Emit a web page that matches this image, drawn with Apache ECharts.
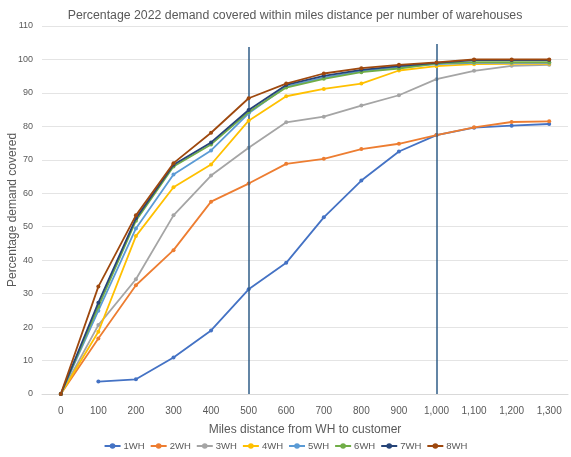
<!DOCTYPE html>
<html>
<head>
<meta charset="utf-8">
<script src="https://cdn.jsdelivr.net/npm/echarts@6/dist/echarts.min.js"></script>
<style>
  html, body { margin: 0; padding: 0; background: #fff; }
  #chart { width: 571px; height: 457px; }
</style>
</head>
<body>
<div id="chart"></div>
<script>
var miles = ['0', '100', '200', '300', '400', '500', '600', '700', '800', '900', '1,000', '1,100', '1,200', '1,300'];

var wh1 = ['-', 3.7, 4.4, 10.9, 19.0, 31.3, 39.2, 52.8, 63.8, 72.5, 77.4, 79.6, 80.2, 80.7];
var wh2 = [0, 16.6, 32.5, 43.0, 57.5, 62.9, 68.8, 70.3, 73.2, 74.8, 77.4, 79.7, 81.3, 81.5];
var wh3 = [0, 20.6, 34.3, 53.4, 65.3, 73.6, 81.2, 82.9, 86.2, 89.3, 94.1, 96.6, 98.1, 98.4];
var wh4 = [0, 18.6, 47.2, 61.8, 68.6, 81.7, 89.0, 91.2, 92.8, 96.7, 98.0, 98.6, 98.7, 98.7];
var wh5 = [0, 24.9, 49.5, 65.6, 72.8, 83.9, 91.9, 94.6, 96.5, 97.6, 98.6, 99.0, 99.0, 99.0];
var wh6 = [0, 26.1, 51.8, 68.0, 74.6, 84.3, 91.6, 94.2, 96.2, 97.3, 98.8, 99.2, 99.2, 99.2];
var wh7 = [0, 27.3, 52.5, 68.5, 75.2, 84.9, 92.4, 95.1, 96.9, 98.0, 99.0, 99.8, 99.8, 99.8];
var wh8 = [0, 32.1, 53.4, 69.0, 78.1, 88.4, 92.8, 95.8, 97.4, 98.4, 99.1, 100, 100, 100];

var seriesNames = ['1WH', '2WH', '3WH', '4WH', '5WH', '6WH', '7WH', '8WH'];
var seriesData = [wh1, wh2, wh3, wh4, wh5, wh6, wh7, wh8];
var colors = ['#4472C4', '#ED7D31', '#A5A5A5', '#FFC000', '#5B9BD5', '#70AD47', '#264478', '#9E480E'];

// vertical reference lines (category, top value)
var refLines = [['500', 103.7], ['1,000', 104.6]];

var series = seriesNames.map(function (name, i) {
    var s = {
        name: name,
        type: 'line',
        data: seriesData[i],
        symbol: 'circle',
        symbolSize: 4,
        lineStyle: { width: 1.8 },
        z: 2 + i
    };
    if (i === 0) {
        s.markLine = {
            silent: true,
            symbol: 'none',
            label: { show: false },
            lineStyle: { color: '#2F5D87', width: 1.5, type: 'solid' },
            data: refLines.map(function (r) {
                return [{ coord: [r[0], 0] }, { coord: [r[0], r[1]] }];
            })
        };
    }
    return s;
});

var option = {
    color: colors,
    textStyle: { fontFamily: 'Liberation Sans' },
    title: {
        text: 'Percentage 2022 demand covered within miles distance per number of warehouses',
        left: 290,
        textAlign: 'center',
        top: 5,
        textStyle: { fontSize: 12.3, fontWeight: 'normal', color: '#595959' }
    },
    legend: {
        data: seriesNames,
        bottom: 1,
        left: 'center',
        itemWidth: 16,
        itemHeight: 7,
        itemGap: 5,
        textStyle: { fontSize: 9.5, color: '#595959', padding: [0, 0, 0, -2] }
    },
    grid: { left: 42, right: 3, top: 26, bottom: 63, containLabel: false, outerBoundsMode: 'none' },
    xAxis: {
        type: 'category',
        data: miles,
        boundaryGap: true,
        name: 'Miles distance from WH to customer',
        nameLocation: 'middle',
        nameGap: 30,
        nameMoveOverlap: false,
        nameTextStyle: { fontSize: 12, color: '#595959' },
        axisLine: { lineStyle: { color: '#D9D9D9' } },
        axisTick: { show: false },
        axisLabel: { fontSize: 10, color: '#595959', margin: 12 }
    },
    yAxis: {
        type: 'value',
        min: 0,
        max: 110,
        interval: 10,
        name: 'Percentage demand covered',
        nameLocation: 'middle',
        nameGap: 23,
        nameMoveOverlap: false,
        nameTextStyle: { fontSize: 12, color: '#595959' },
        axisLine: { show: false },
        axisTick: { show: false },
        axisLabel: { fontSize: 9, color: '#595959', margin: 9 },
        splitLine: { lineStyle: { color: '#E4E4E4' } }
    },
    series: series
};

var myChart = echarts.init(document.getElementById('chart'));
myChart.setOption(option);
</script>
</body>
</html>
